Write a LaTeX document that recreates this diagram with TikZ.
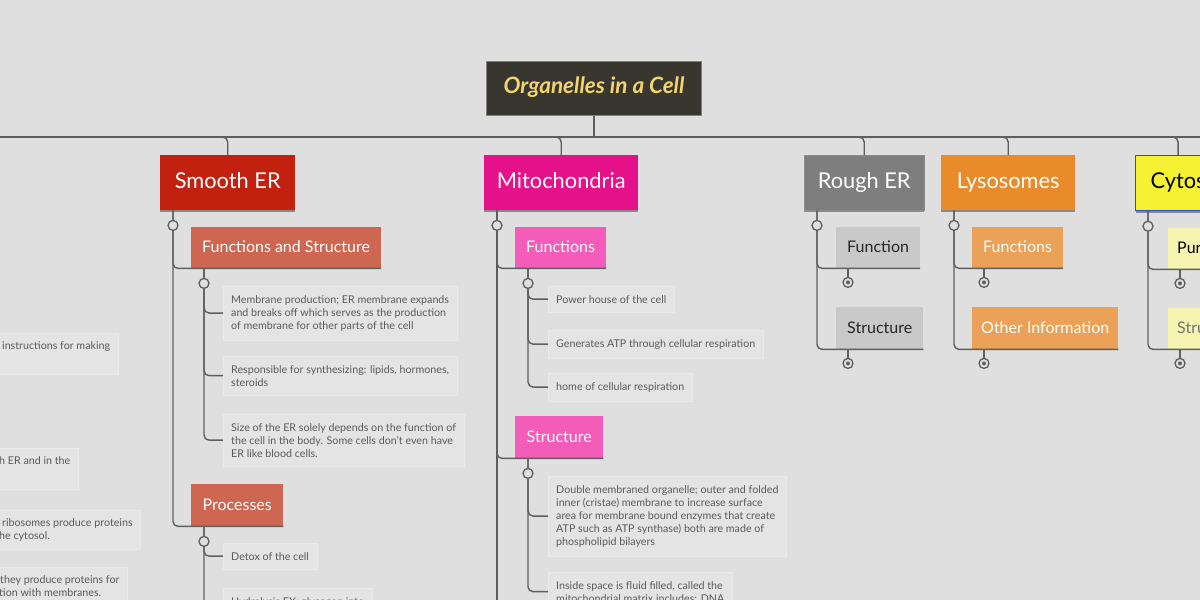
\documentclass[tikz,border=0pt]{standalone}
\usepackage{fontspec}
\setmainfont{Lato}
\usetikzlibrary{shadows}

\definecolor{bg}{HTML}{DFDFDF}
\definecolor{linegray}{HTML}{5E5E5E}
\definecolor{leaffill}{HTML}{E4E4E4}
\definecolor{leafedge}{HTML}{EAEAEA}
\definecolor{leaftext}{HTML}{5A5A5A}
\definecolor{rootfill}{HTML}{38372F}
\definecolor{roottext}{HTML}{F3D46E}
\definecolor{smoothred}{HTML}{C1210E}
\definecolor{smoothsub}{HTML}{CF6651}
\definecolor{mitomag}{HTML}{E5118A}
\definecolor{mitopink}{HTML}{F45CB9}
\definecolor{roughgray}{HTML}{7E7E7E}
\definecolor{roughsub}{HTML}{C9C9C9}
\definecolor{lysoorange}{HTML}{E98B2B}
\definecolor{lysosub}{HTML}{EBA157}
\definecolor{cytoyellow}{HTML}{F4F233}
\definecolor{cytoblue}{HTML}{2B4ED6}
\definecolor{cytosub}{HTML}{F6F4B1}

\begin{document}
\begin{tikzpicture}[x=1pt, y=-1pt,
    conn/.style={draw=linegray, line width=1.4pt, rounded corners=5pt},
    root/.style={anchor=north west, fill=rootfill, draw=gray, line width=1pt,
        minimum width=215pt, minimum height=54pt, text=roottext,
        text height=1.14em, text depth=0.1em,
        font=\fontsize{22.5}{26}\selectfont\bfseries\itshape},
    topic/.style={anchor=north west, minimum height=55pt, text=white,
        text height=1.25em, text depth=0.12em,
        font=\fontsize{21.8}{26}\selectfont,
        drop shadow={shadow xshift=0pt, shadow yshift=-2pt, fill=gray, opacity=0.9}},
    subtopic/.style={anchor=north west, minimum height=41pt, inner xsep=11pt,
        text height=1.08em, text depth=0.12em,
        text=white, font=\fontsize{16}{19}\selectfont},
    leaf/.style={anchor=north west, fill=leaffill, draw=leafedge, text=leaftext,
        align=left, inner xsep=8pt, inner ysep=9pt,
        font=\fontsize{10.7}{13}\selectfont},
    toggle/.style={circle, draw=linegray, line width=1.3pt, fill=bg,
        inner sep=0pt, minimum size=10pt},
    folded/.style={toggle, path picture={\fill[linegray]
        (path picture bounding box.center) circle (2pt);}}
]
    \useasboundingbox (0,0) rectangle (1200,600);
    \clip (0,0) rectangle (1200,600);
    \fill[bg] (0,0) rectangle (1200,600);

    % Root and main bar
    \node[root] (root) at (486,61) {Organelles in a Cell};
    \coordinate (barL) at (0,137);
    \coordinate (barR) at (1200,137);
    \draw[conn] (barL) -- (barR);
    \draw[conn] (root.south) -- (root.south |- barL);

    % Topics
    \node[topic, fill=smoothred, minimum width=135pt] (se) at (160,155) {Smooth ER};
    \node[topic, fill=mitomag, minimum width=154pt] (mi) at (484,155) {Mitochondria};
    \node[topic, fill=roughgray, draw=black!45, minimum width=120pt] (re) at (804,155) {Rough ER};
    \node[topic, fill=lysoorange, minimum width=134pt] (ly) at (941,155) {Lysosomes};
    \node[topic, fill=cytoyellow, draw=cytoblue, line width=1.2pt, text=black,
        inner xsep=15pt] (cy) at (1135,155) {Cytos};
    \foreach \t in {se, mi, re, ly, cy}
        \draw[conn] ([xshift=-8pt]\t.north |- barL) -| (\t.north);

    % Smooth ER
    \node[subtopic, fill=smoothsub, minimum width=189pt] (fs) at (191,227) {Functions and Structure};
    \node[subtopic, fill=smoothsub, minimum width=92pt, minimum height=42pt] (pr) at (191,484) {Processes};
    \node[leaf] (fs1) at (223,286) {Membrane production; ER membrane expands\\and breaks off which serves as the production\\of membrane for other parts of the cell};
    \node[leaf] (fs2) at (223,356) {Responsible for synthesizing: lipids, hormones,\\steroids};
    \node[leaf] (fs3) at (223,414) {Size of the ER solely depends on the function of\\the cell in the body. Some cells don't even have\\ER like blood cells.};
    \node[leaf] (pr1) at (223,543) {Detox of the cell};
    \node[leaf] (pr2) at (223,588) {Hydrolysis EX: glycogen into\\\strut};
    \draw[conn] ([xshift=13pt]se.south west) |- (fs.south east);
    \draw[conn] ([xshift=13pt]se.south west) |- (pr.south east);
    \foreach \l in {fs1, fs2, fs3}
        \draw[conn] ([xshift=13pt]fs.south west) |- (\l.west);
    \foreach \l in {pr1, pr2}
        \draw[conn] ([xshift=13pt]pr.south west) |- (\l.west);

    % Mitochondria
    \node[subtopic, fill=mitopink, minimum width=89pt] (mf) at (515,227) {Functions};
    \node[subtopic, fill=mitopink, minimum width=88pt, minimum height=42pt] (ms) at (515,416) {Structure};
    \node[leaf] (mf1) at (548,286) {Power house of the cell};
    \node[leaf] (mf2) at (548,330) {Generates ATP through cellular respiration};
    \node[leaf] (mf3) at (548,373) {home of cellular respiration};
    \node[leaf] (ms1) at (548,476) {Double membraned organelle; outer and folded\\inner (cristae) membrane to increase surface\\area for membrane bound enzymes that create\\ATP such as ATP synthase) both are made of\\phospholipid bilayers};
    \node[leaf] (ms2) at (548,572) {Inside space is fluid filled, called the\\mitochondrial matrix includes: DNA};
    \coordinate (miend) at (497,620);
    \draw[conn] ([xshift=13pt]mi.south west) -- (miend);
    \draw[conn] ([xshift=13pt]mi.south west) |- (mf.south east);
    \draw[conn] ([xshift=13pt]mi.south west) |- (ms.south east);
    \foreach \l in {mf1, mf2, mf3}
        \draw[conn] ([xshift=13pt]mf.south west) |- (\l.west);
    \draw[conn] ([xshift=13pt]ms.south west) |- (ms1.west);
    \draw[conn] ([xshift=13pt]ms.south west) |- (ms2.west);

    % Rough ER
    \node[subtopic, fill=roughsub, text=black!85, minimum width=81pt] (rf) at (836,227) {Function};
    \node[subtopic, fill=roughsub, text=black!85, minimum width=86pt, minimum height=42pt] (rs) at (836,307) {Structure};

    % Lysosomes
    \node[subtopic, fill=lysosub, minimum width=90pt] (lf) at (972,227) {Functions};
    \node[subtopic, fill=lysosub, inner xsep=9pt, minimum height=42pt] (lo) at (972,307) {Other Information};

    % Cytosol
    \node[subtopic, fill=cytosub, text=black, inner xsep=9pt] (cp) at (1168,228) {Pur};
    \node[subtopic, fill=cytosub, text=black!55, inner xsep=9pt, minimum height=41pt] (cs) at (1168,308) {Stru};

    \foreach \t/\a/\b in {re/rf/rs, ly/lf/lo, cy/cp/cs} {
        \draw[conn] ([xshift=13pt]\t.south west) |- (\a.south east);
        \draw[conn] ([xshift=13pt]\t.south west) |- (\b.south east);
        \node[folded] (\a-dot) at ([xshift=12pt,yshift=-14pt]\a.south west) {};
        \node[folded] (\b-dot) at ([xshift=12pt,yshift=-14pt]\b.south west) {};
        \draw[conn] ([xshift=12pt]\a.south west) -- (\a-dot);
        \draw[conn] ([xshift=12pt]\b.south west) -- (\b-dot);
    }

    % Toggles
    \foreach \t in {se, mi, re, ly, cy, fs, pr, mf, ms}
        \node[toggle] (\t-tog) at ([xshift=13pt,yshift=-15pt]\t.south west) {};

    % Left side (cut off)
    \node[leaf, inner ysep=8pt] (lt1) at (-6,333) {instructions for making\\\strut};
    \node[leaf, inner ysep=8pt] (lt2) at (-9,448) {h ER and in the\\\strut};
    \node[leaf, inner ysep=8pt] (lt3) at (-9,510) {\hspace{3pt}ribosomes produce proteins\\he cytosol.};
    \node[leaf, inner ysep=8pt] (lt4) at (-9,567) {\hspace{1pt}they produce proteins for\\tion with membranes.};
\end{tikzpicture}
\end{document}
